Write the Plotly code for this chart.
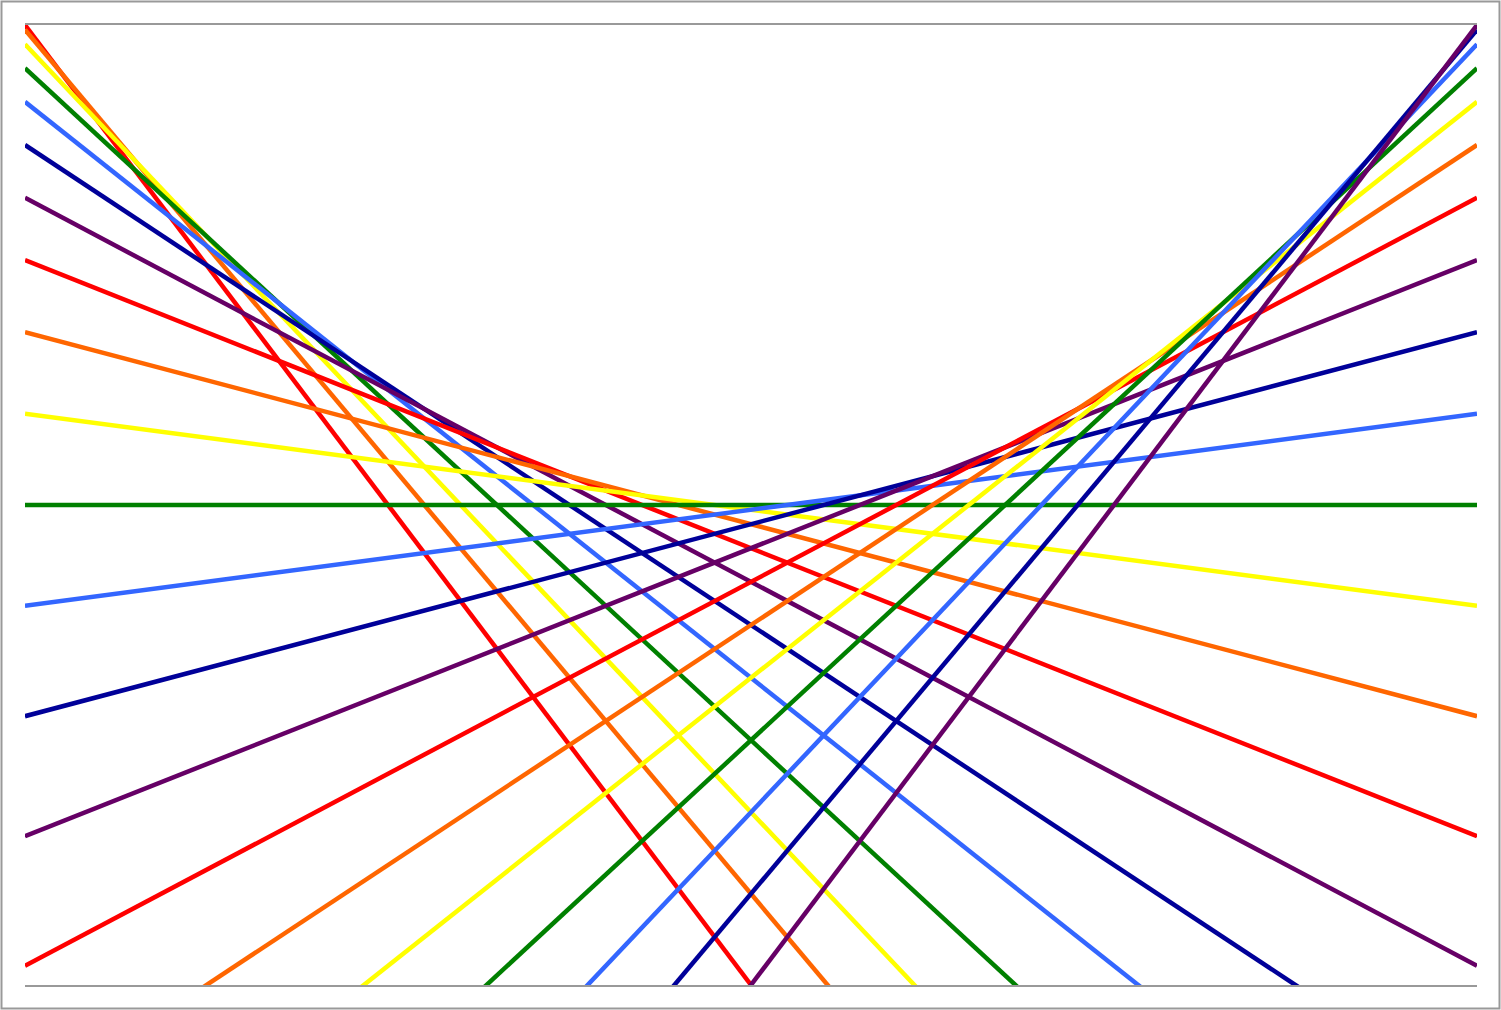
import plotly.graph_objects as go

# Tangent lines to the parabola y = x^2 at the points below
tangent_points = [-1.0, -0.9, -0.8, -0.7, -0.6, -0.5, -0.4, -0.3, -0.2, -0.1, 0.0,
                  0.1, 0.2, 0.3, 0.4, 0.5, 0.6, 0.7, 0.8, 0.9, 1.0]
slopes = [-2.0, -1.8, -1.6, -1.4, -1.2, -1.0, -0.8, -0.6, -0.4, -0.2, 0.0,
          0.2, 0.4, 0.6, 0.8, 1.0, 1.2, 1.4, 1.6, 1.8, 2.0]
intercepts = [-1.0, -0.81, -0.64, -0.49, -0.36, -0.25, -0.16, -0.09, -0.04, -0.01, 0.0,
              -0.01, -0.04, -0.09, -0.16, -0.25, -0.36, -0.49, -0.64, -0.81, -1.0]
palette = ["#FF0000", "#FF6600", "#FFFF00", "#008000", "#3366FF", "#000099", "#660066"]
x_ends = [-1.0, 1.0]

fig = go.Figure()
for i, (m, b) in enumerate(zip(slopes, intercepts)):
    fig.add_trace(go.Scatter(
        x=x_ends, y=[m * xv + b for xv in x_ends], mode="lines",
        line=dict(color=palette[i % len(palette)], width=4.5),
        showlegend=False, hoverinfo="skip", cliponaxis=True,
    ))

W, H = 1501, 1010
ml, mr, mt, mb = 25, 24, 25, 25
pw, ph = W - ml - mr, H - mt - mb

fig.update_layout(
    width=W, height=H,
    margin=dict(l=ml, r=mr, t=mt, b=mb, pad=0),
    paper_bgcolor="white", plot_bgcolor="white",
    showlegend=False,
    xaxis=dict(range=[-1, 1], showgrid=False, zeroline=False, showticklabels=False,
               ticks="", showline=True, mirror=True, linecolor="#999999", linewidth=1.5),
    yaxis=dict(range=[-1, 1], showgrid=False, zeroline=False, showticklabels=False,
               ticks="", showline=False),
    shapes=[dict(
        type="rect", xref="paper", yref="paper", layer="above",
        x0=(1.5 - ml) / pw, x1=(W - 1.5 - ml) / pw,
        y0=-(mb - 1.5) / ph, y1=(ph + mt - 1.5) / ph,
        line=dict(color="#999999", width=2), fillcolor="rgba(0,0,0,0)",
    )],
)

fig.write_html(
    "out.html",
    config={"displayModeBar": False},
    post_script="document.body.style.margin='0';document.body.style.overflow='hidden';",
)
